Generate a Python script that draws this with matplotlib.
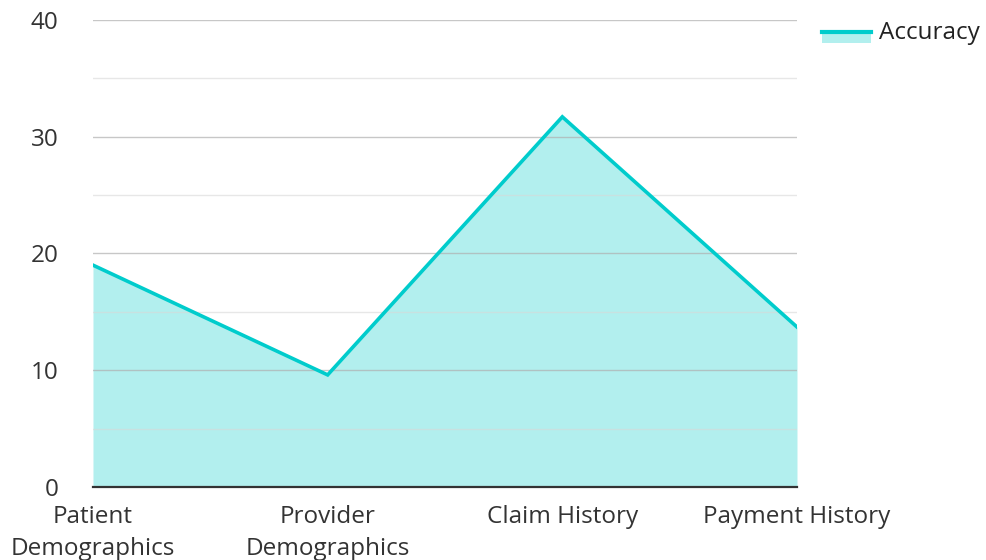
import matplotlib.pyplot as plt
import numpy as np
from matplotlib.lines import Line2D
from matplotlib.patches import Rectangle
from matplotlib.legend_handler import HandlerBase

plt.rcParams['font.family'] = ['Open Sans', 'DejaVu Sans']

categories = ['Patient\nDemographics', 'Provider\nDemographics', 'Claim History', 'Payment History']
accuracy = [19.0, 9.6, 31.7, 13.7]

line_color = '#00cccc'
fill_color = '#b2efee'
fs = 17.5


class AreaHandler(HandlerBase):
    # filled box with the line sitting on its top edge
    def create_artists(self, legend, orig_handle, xdescent, ydescent,
                       width, height, fontsize, trans):
        top = height * 0.45
        bottom = -height * 0.2
        rect = Rectangle((-xdescent, bottom - ydescent), width, top - bottom,
                         facecolor=fill_color, edgecolor='none', transform=trans)
        ln = Line2D([-xdescent, -xdescent + width], [top - ydescent, top - ydescent],
                    color=line_color, lw=3, transform=trans)
        return [rect, ln]


fig = plt.figure(figsize=(9.86, 5.6), dpi=100)
ax = fig.add_axes([0.0943, 0.1304, 0.714, 0.834])

x = np.arange(len(categories))
ax.fill_between(x, accuracy, 0, color=fill_color, lw=0, zorder=1)
ax.plot(x, accuracy, color=line_color, lw=2.6, zorder=3, solid_joinstyle='miter')

ax.set_xlim(0, len(categories) - 1)
ax.set_ylim(0, 40)
ax.set_yticks([0, 10, 20, 30, 40])
ax.set_yticks([5, 15, 25, 35], minor=True)
ax.grid(axis='y', which='major', color='#b0b0b0', lw=1, alpha=0.7, zorder=2)
ax.grid(axis='y', which='minor', color='#d8d8d8', lw=1, alpha=0.6, zorder=2)
ax.set_axisbelow(False)

ax.set_xticks(x)
ax.set_xticklabels(categories, fontsize=fs, color='#333333', linespacing=1.43)
ax.tick_params(axis='x', length=0, pad=13)
ax.tick_params(axis='y', which='both', length=0, pad=25, labelsize=fs, labelcolor='#333333')

for s in ['top', 'right', 'left']:
    ax.spines[s].set_visible(False)
ax.spines['bottom'].set_color('#333333')
ax.spines['bottom'].set_linewidth(1.6)
ax.spines['bottom'].set_zorder(4)

fig.legend([object()], ['Accuracy'], loc='upper left', bbox_to_anchor=(0.819, 0.988),
           frameon=False, fontsize=fs, handlelength=2.0, handletextpad=0.35,
           borderaxespad=0.2, handler_map={object: AreaHandler()}, labelcolor='#222222')

fig.savefig('out.png', dpi=100)
